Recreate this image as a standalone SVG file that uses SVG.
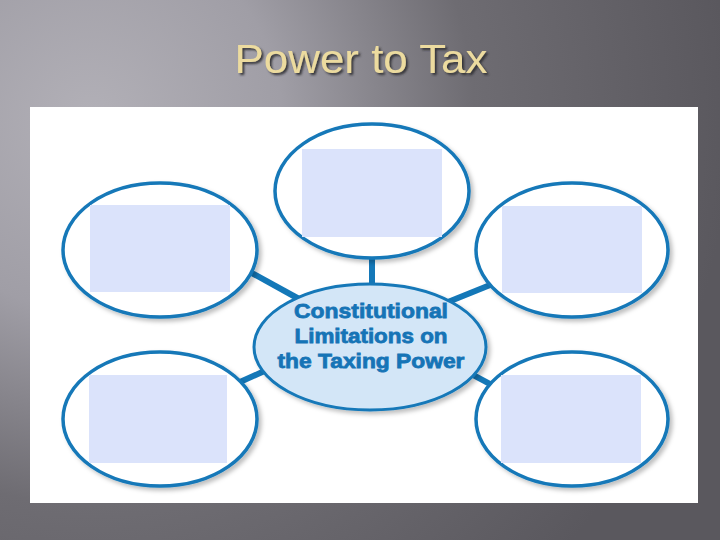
<svg xmlns="http://www.w3.org/2000/svg" width="720" height="540" viewBox="0 0 720 540">
<defs>
<radialGradient id="bg" cx="90" cy="120" r="640" gradientUnits="userSpaceOnUse">
<stop offset="0" stop-color="#b2b0b7"/>
<stop offset="0.3" stop-color="#a09ea6"/>
<stop offset="0.6" stop-color="#6e6c72"/>
<stop offset="1" stop-color="#5a585e"/>
</radialGradient>
<filter id="sh" x="-10%" y="-10%" width="125%" height="130%">
<feDropShadow dx="3" dy="3" stdDeviation="2" flood-color="#000" flood-opacity="0.25"/>
</filter>
<filter id="tsh" x="-5%" y="-20%" width="115%" height="150%">
<feDropShadow dx="2" dy="2" stdDeviation="0.8" flood-color="#2e2d33" flood-opacity="0.9"/>
</filter>
</defs>
<style>
.outer{fill:#fff;stroke:#1478b8;stroke-width:3.5}
.box{fill:#dbe3fb}
.conn line{stroke:#1478b8;stroke-width:6}
.lbl{font-family:"Liberation Sans",Arial,sans-serif;font-weight:bold;font-size:21px;fill:#1674b6;stroke:#1674b6;stroke-width:0.8;text-anchor:middle}
</style>
<rect width="720" height="540" fill="url(#bg)"/>
<text x="361" y="73" font-family="'Liberation Sans',Arial,sans-serif" font-size="41" fill="#ecdb9f" text-anchor="middle" textLength="253" lengthAdjust="spacingAndGlyphs" filter="url(#tsh)">Power to Tax</text>
<rect x="30" y="107" width="668" height="396" fill="#fff"/>
<g id="connectors" class="conn">
<line x1="240" y1="266.5" x2="300" y2="299.5"/>
<line x1="372" y1="255" x2="372" y2="290"/>
<line x1="448" y1="302" x2="500" y2="281"/>
<line x1="230" y1="386.5" x2="280" y2="364"/>
<line x1="465" y1="370.7" x2="500" y2="389.3"/>
</g>
<g id="node-top">
<ellipse class="outer" cx="372" cy="191" rx="97" ry="67" filter="url(#sh)"/>
<rect class="box" x="302" y="149" width="140" height="88"/>
</g>
<g id="node-top-left">
<ellipse class="outer" cx="160" cy="250" rx="97" ry="67" filter="url(#sh)"/>
<rect class="box" x="90" y="205" width="140" height="87"/>
</g>
<g id="node-top-right">
<ellipse class="outer" cx="572" cy="250" rx="96" ry="67" filter="url(#sh)"/>
<rect class="box" x="502" y="206" width="140" height="87"/>
</g>
<g id="node-bottom-left">
<ellipse class="outer" cx="160" cy="419" rx="97" ry="67" filter="url(#sh)"/>
<rect class="box" x="89" y="375" width="138" height="88"/>
</g>
<g id="node-bottom-right">
<ellipse class="outer" cx="572" cy="419" rx="96" ry="67" filter="url(#sh)"/>
<rect class="box" x="501" y="375" width="140" height="88"/>
</g>
<g id="node-center">
<ellipse cx="370" cy="347" rx="116" ry="63" fill="#d3e6f7" stroke="#1478b8" stroke-width="3" filter="url(#sh)"/>
<text class="lbl" x="371" y="318" textLength="154" lengthAdjust="spacingAndGlyphs">Constitutional</text>
<text class="lbl" x="371" y="343" textLength="153" lengthAdjust="spacingAndGlyphs">Limitations on</text>
<text class="lbl" x="371" y="368" textLength="187" lengthAdjust="spacingAndGlyphs">the Taxing Power</text>
</g>
</svg>
